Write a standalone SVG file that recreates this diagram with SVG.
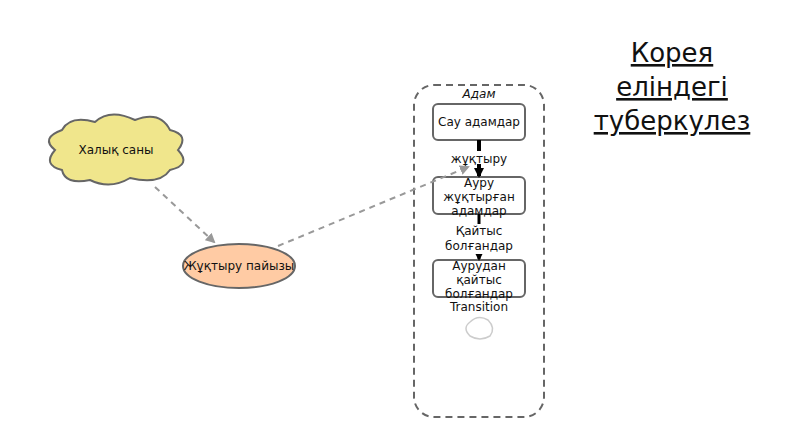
<svg xmlns="http://www.w3.org/2000/svg" width="800" height="437" viewBox="0 0 800 437">
<style>
text{font-family:"Comic Sans MS","DejaVu Sans",sans-serif;fill:#111}
.box{fill:#fff;stroke:#666;stroke-width:2}
.s{font-size:12px}
.t{font-size:26px;text-decoration:underline}
.dash{fill:none;stroke:#999;stroke-width:2;stroke-dasharray:6,5}
</style>
<defs>
<marker id="ga" markerWidth="10" markerHeight="10" refX="8" refY="5" orient="auto" markerUnits="userSpaceOnUse"><path d="M0,0 L10,5 L0,10 z" fill="#999"/></marker>
<marker id="ba" markerWidth="10" markerHeight="10" refX="8" refY="5" orient="auto" markerUnits="userSpaceOnUse"><path d="M0,0 L10,5 L0,10 z" fill="#000"/></marker>
</defs>
<g id="title"><text class="t" x="672" y="62" text-anchor="middle">Корея</text><text class="t" x="672" y="96" text-anchor="middle">еліндегі</text><text class="t" x="672" y="130" text-anchor="middle">туберкулез</text></g>
<g id="adam"><rect x="414" y="85" width="130" height="332" rx="20" fill="none" stroke="#666" stroke-width="2" stroke-dasharray="7,5"/><text class="s" x="479" y="98" text-anchor="middle" font-style="italic">Адам</text></g>
<g id="halyk"><path d="M62,130 Q70,115 95,122 Q110,108 135,120 Q160,110 170,130 Q190,135 178,150 Q192,165 170,170 Q160,185 130,178 Q110,190 90,180 Q65,185 62,170 Q42,165 55,150 Q40,138 62,130 Z" fill="#f0e68c" stroke="#666" stroke-width="2"/><text class="s" x="116" y="154" text-anchor="middle">Халық саны</text></g>
<g id="juktyru"><ellipse cx="239" cy="266" rx="56" ry="22" fill="#ffcba4" stroke="#666" stroke-width="2"/><text class="s" x="239" y="270" text-anchor="middle">Жұқтыру пайызы</text></g>
<g id="sau"><rect class="box" x="433" y="104" width="92" height="36" rx="5"/><text class="s" x="479" y="126" text-anchor="middle">Сау адамдар</text></g>
<g id="auru"><rect class="box" x="433" y="177" width="92" height="37" rx="5"/><text class="s" x="479" y="187" text-anchor="middle">Ауру</text><text class="s" x="479" y="201" text-anchor="middle">жұқтырған</text><text class="s" x="479" y="215" text-anchor="middle">адамдар</text></g>
<g id="aurudan"><rect class="box" x="433" y="260" width="92" height="37" rx="5"/><text class="s" x="479" y="270" text-anchor="middle">Аурудан</text><text class="s" x="479" y="284" text-anchor="middle">қайтыс</text><text class="s" x="479" y="298" text-anchor="middle">болғандар</text></g>
<g id="transition"><text class="s" x="479" y="311" text-anchor="middle">Transition</text><path d="M470,322 Q478,314 488,320 Q496,328 490,336 Q480,342 470,336 Q462,328 470,322 Z" fill="#fff" stroke="#ccc" stroke-width="1.5"/></g>
<g id="connectors">
<line class="dash" x1="155" y1="187" x2="214" y2="242" marker-end="url(#ga)"/>
<line x1="479" y1="140" x2="479" y2="176" stroke="#000" stroke-width="4" marker-end="url(#ba)"/>
<line x1="479" y1="214" x2="479" y2="259" stroke="#000" stroke-width="3" marker-end="url(#ba)"/>
<rect x="452" y="151" width="54" height="13" fill="#fff"/>
<text class="s" x="479" y="163" text-anchor="middle">жұқтыру</text>
<rect x="448" y="224" width="62" height="30" fill="#fff"/>
<text class="s" x="479" y="235" text-anchor="middle">Қайтыс</text><text class="s" x="479" y="250" text-anchor="middle">болғандар</text>
<line class="dash" x1="278" y1="246" x2="468" y2="167" marker-end="url(#ga)"/>
</g>
</svg>
